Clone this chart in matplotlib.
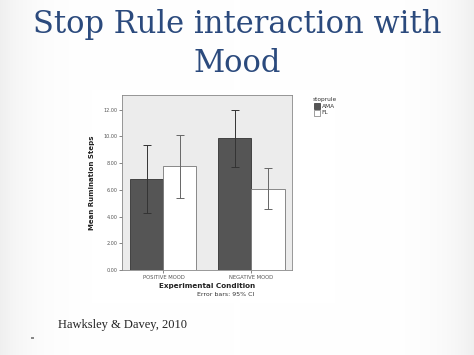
import numpy as np
import matplotlib
matplotlib.use("Agg")
import matplotlib.pyplot as plt
from matplotlib.patches import Rectangle

categories = ["POSITIVE MOOD", "NEGATIVE MOOD"]
series = ["AMA", "FL"]
ama_means = [6.80, 9.87]
ama_lo = [4.25, 7.70]
ama_hi = [9.37, 12.00]
fl_means = [7.75, 6.07]
fl_lo = [5.37, 4.55]
fl_hi = [10.12, 7.65]
yticks = [0, 2, 4, 6, 8, 10, 12]

fig = plt.figure(figsize=(4.74, 3.55), dpi=100)

# slide background with soft gradient at edges
bg = fig.add_axes([0, 0, 1, 1], zorder=-10)
xx = np.linspace(-1, 1, 300)
yy = np.linspace(-1, 1, 240)
X, Y = np.meshgrid(xx, yy)
edge = np.abs(X) ** 8
img = 1.0 - 0.06 * edge
bg.imshow(np.dstack([img, img, img]), extent=[0, 1, 0, 1], aspect="auto", origin="lower")
bg.add_patch(Rectangle((92 / 474, 1 - 303 / 355), (335 - 92) / 474, (303 - 90) / 355,
                       facecolor="white", edgecolor="none"))
bg.set_xlim(0, 1); bg.set_ylim(0, 1)
bg.axis("off")

title_col = "#2b4a7d"
fig.text(0.5, 1 - 33 / 355, "Stop Rule interaction with", ha="center", va="baseline",
         fontsize=22, family="DejaVu Serif", color=title_col)
fig.text(0.5, 1 - 72 / 355, "Mood", ha="center", va="baseline",
         fontsize=22, family="DejaVu Serif", color=title_col)

fig.text(58 / 474, 1 - 325 / 355, "Hawksley & Davey, 2010", ha="left", va="center",
         fontsize=9, family="Liberation Serif", color="#222222")
fig.patches.append(Rectangle((31 / 474, 1 - 339 / 355), 2.5 / 474, 2.5 / 355,
                             facecolor="#888888", edgecolor="none", transform=fig.transFigure))

ax = fig.add_axes([122 / 474, 1 - 270 / 355, (292 - 122) / 474, (270 - 95) / 355])
ax.set_facecolor("#ececec")
x = np.arange(len(categories))
w = 0.375
ama_err = [np.array(ama_means) - np.array(ama_lo), np.array(ama_hi) - np.array(ama_means)]
fl_err = [np.array(fl_means) - np.array(fl_lo), np.array(fl_hi) - np.array(fl_means)]
ax.bar(x - w / 2, ama_means, w, color="#555555", edgecolor="#333333", linewidth=0.6, label="AMA")
ax.bar(x + w / 2, fl_means, w, color="white", edgecolor="#777777", linewidth=0.6, label="FL")
ax.errorbar(x - w / 2, ama_means, yerr=ama_err, fmt="none", ecolor="#333333", elinewidth=0.7,
            capsize=2.9, capthick=0.7)
ax.errorbar(x + w / 2, fl_means, yerr=fl_err, fmt="none", ecolor="#666666", elinewidth=0.7,
            capsize=2.9, capthick=0.7)
ax.set_xlim(-0.47, 1.46)
ax.set_ylim(0, 13.1)
ax.set_yticks(yticks)
ax.set_yticklabels([f"{v:.2f}" for v in yticks], fontsize=3.5, color="#333333")
ax.set_xticks(x)
ax.set_xticklabels(categories, fontsize=3.8, color="#333333")
ax.tick_params(axis="both", length=2, width=0.5, pad=1.5, colors="#555555")
for s in ax.spines.values():
    s.set_color("#888888"); s.set_linewidth(0.6)
ax.set_ylabel("Mean Rumination Steps", fontsize=5, fontweight="bold", labelpad=6, color="#222222")
ax.set_xlabel("Experimental Condition", fontsize=5.2, fontweight="bold", labelpad=2.5, color="#222222")

fig.text(226 / 474, 1 - 295 / 355, "Error bars: 95% CI", ha="center", va="center",
         fontsize=4.5, color="#333333")

# legend
fig.text(313 / 474, 1 - 99 / 355, "stoprule", fontsize=4.2, va="center", color="#333333")
colors = {"AMA": ("#555555", "#333333"), "FL": ("white", "#777777")}
for i, name in enumerate(series):
    yc = 106 + i * 7
    fig.patches.append(Rectangle((314 / 474, 1 - (yc + 3) / 355), 6 / 474, 6 / 355,
                                 facecolor=colors[name][0], edgecolor=colors[name][1],
                                 linewidth=0.5, transform=fig.transFigure))
    fig.text(321.5 / 474, 1 - yc / 355, name, fontsize=4.2, va="center", color="#333333")

fig.savefig("out.png", dpi=100)
